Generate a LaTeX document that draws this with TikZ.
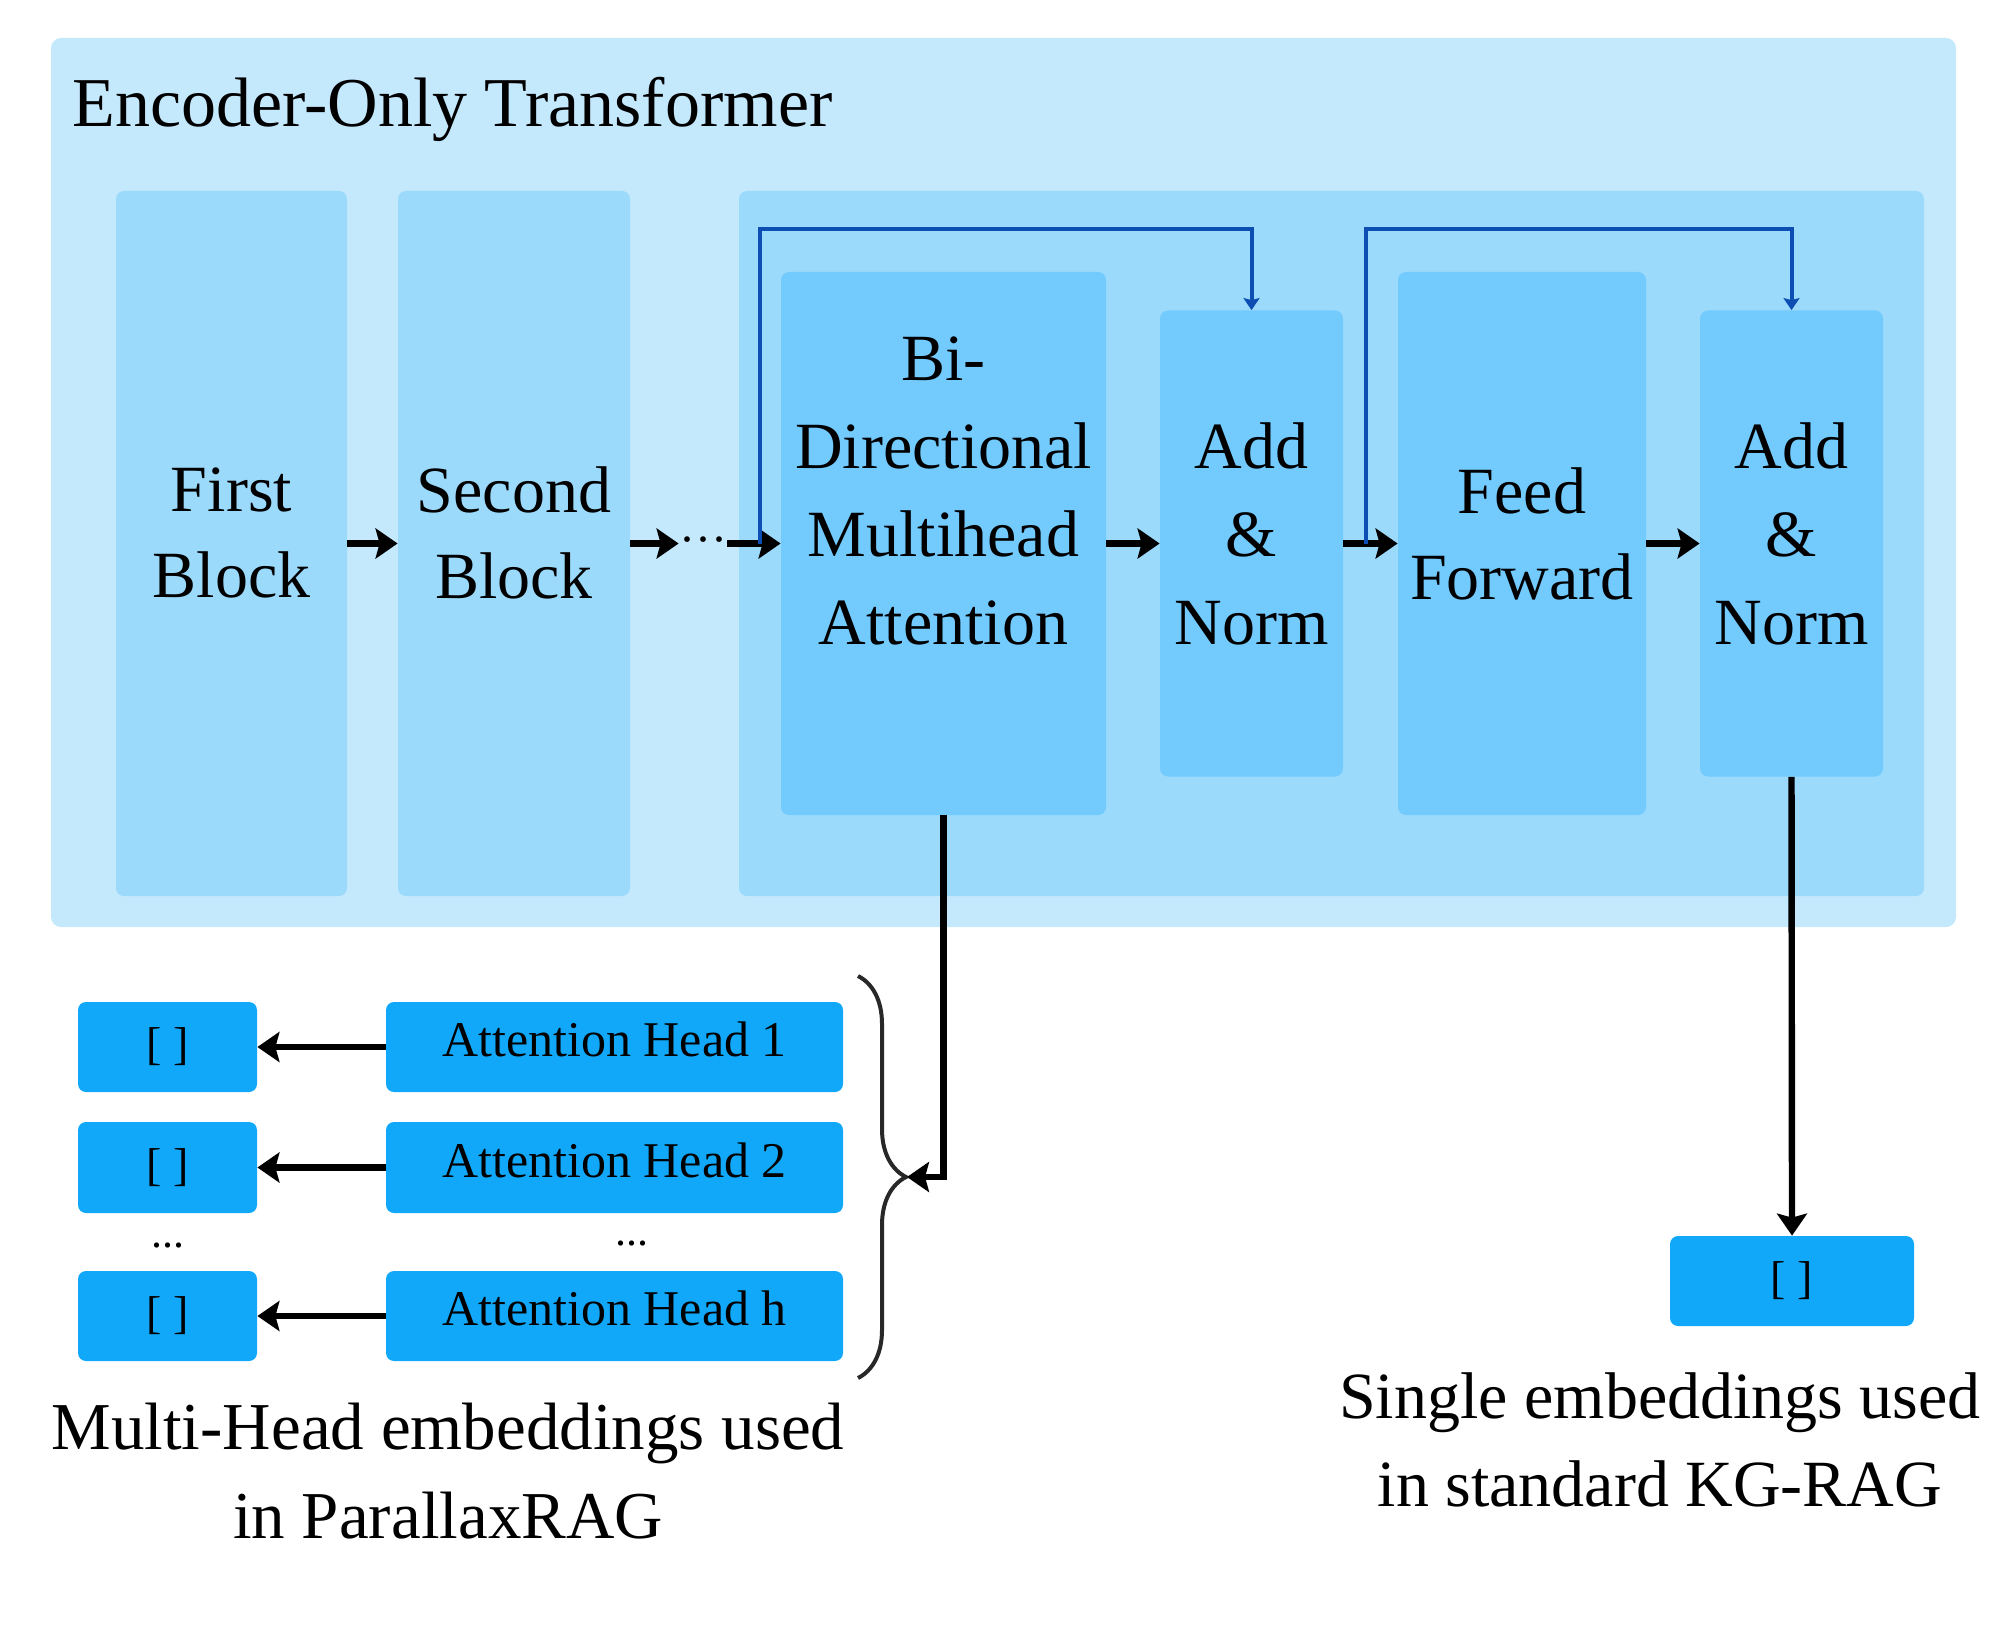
\documentclass[tikz,border=0pt]{standalone}
\usepackage{fontspec}
\setmainfont{Liberation Serif}
\usetikzlibrary{arrows.meta,decorations.pathreplacing,calc}
\definecolor{outerC}{RGB}{196,232,252}
\definecolor{blockC}{RGB}{156,218,252}
\definecolor{innerC}{RGB}{114,202,253}
\definecolor{brightC}{RGB}{18,168,250}
\definecolor{skipC}{RGB}{12,78,178}
\definecolor{braceC}{RGB}{40,40,40}
\begin{document}
\begin{tikzpicture}[x=0.5pt,y=-0.5pt,
  box/.style={rectangle, rounded corners=4pt, inner sep=0pt, draw=none},
  lbl/.style={align=center, inner sep=0pt, font=\fontsize{33}{43}\selectfont},
  lblw/.style={align=center, inner sep=0pt, font=\fontsize{33}{44}\selectfont},
  headtxt/.style={anchor=base, inner sep=0pt, font=\fontsize{25}{29}\selectfont},
  embtxt/.style={inner sep=0pt, font=\fontsize{23}{27}\selectfont},
  caption/.style={align=center, inner sep=0pt, font=\fontsize{33}{44}\selectfont},
  arr/.style={line width=3.2pt, -{Stealth[length=11pt,width=15pt,inset=2pt]}},
  skipline/.style={draw=skipC, line width=2pt, -{Stealth[length=6pt,width=8pt,inset=1pt]}},
]
\useasboundingbox (0,0) rectangle (2016,1642);
% containers
\node[box, rounded corners=5pt, fill=outerC, minimum width=952.5pt, minimum height=444.5pt] (outer) at (1003.5,482.5) {};
\node[anchor=base west, inner sep=0pt, font=\fontsize{35}{42}\selectfont] (title) at (72,127) {Encoder-Only Transformer};
\node[box, fill=blockC, minimum width=115.5pt, minimum height=352.5pt] (first) at (231.5,543.5) {};
\node[box, fill=blockC, minimum width=116pt, minimum height=352.5pt] (second) at (514,543.5) {};
\node[box, fill=blockC, minimum width=592.5pt, minimum height=352.5pt] (cont) at (1331.5,543.5) {};
\node[box, fill=innerC, minimum width=162.5pt, minimum height=271.5pt] (bidir) at (943.5,543.5) {};
\node[box, fill=innerC, minimum width=91.5pt, minimum height=233pt] (an1) at (1251.5,543.5) {};
\node[box, fill=innerC, minimum width=124pt, minimum height=271.5pt] (ff) at (1522,543.5) {};
\node[box, fill=innerC, minimum width=91.5pt, minimum height=233pt] (an2) at (1791.5,543.5) {};
% labels
\node[lbl] (firstT) at (231.5,532.5) {First\\Block};
\node[lbl] (secondT) at (514,532.5) {Second\\Block};
\node[lblw] (bidirT) at (943.5,490.5) {Bi-\\Directional\\Multihead\\Attention};
\node[lblw] (an1T) at (1251.5,533.5) {Add\\\&\\Norm};
\node[lbl] (ffT) at (1522,534) {Feed\\Forward};
\node[lblw] (an2T) at (1791.5,533.5) {Add\\\&\\Norm};
\node[anchor=base, inner sep=0pt, font=\fontsize{24}{28}\selectfont] (dots) at (703,555) {···};
% main arrows
\draw[arr] (first.east) -- (second.west);
\draw[arr] (second.east) -- (second.east -| dots.west);
\draw[arr] (dots.east |- bidir.west) -- (bidir.west);
\draw[arr] (bidir.east) -- (an1.west);
\draw[arr] (an1.east) -- (ff.west);
\draw[arr] (ff.east) -- (an2.west);
% skip connections
\coordinate (s1) at (760,543.5);
\coordinate (k1) at (760,229);
\coordinate (s2) at (1366,543.5);
\coordinate (k2) at (1366,229);
\draw[skipline] (s1) -- (k1) -| (an1.north);
\draw[skipline] (s2) -- (k2) -| (an2.north);
% lower left: heads
\node[box, fill=brightC, minimum width=228.5pt, minimum height=45pt] (h1) at (614.5,1047) {};
\node[box, fill=brightC, minimum width=228.5pt, minimum height=45.5pt] (h2) at (614.5,1167.5) {};
\node[box, fill=brightC, minimum width=228.5pt, minimum height=45pt] (hh) at (614.5,1316) {};
\node[headtxt] (h1T) at (614.5,1056) {Attention Head 1};
\node[headtxt] (h2T) at (614.5,1177) {Attention Head 2};
\node[headtxt] (hhT) at (614.5,1325) {Attention Head h};
\node[box, fill=brightC, minimum width=89.5pt, minimum height=45pt, embtxt] (e1) at (167.5,1047) {[ ]};
\node[box, fill=brightC, minimum width=89.5pt, minimum height=45.5pt, embtxt] (e2) at (167.5,1167.5) {[ ]};
\node[box, fill=brightC, minimum width=89.5pt, minimum height=45pt, embtxt] (eh) at (167.5,1316) {[ ]};
\node[anchor=base, inner sep=0pt, font=\fontsize{22}{26}\selectfont] (ldots) at (168,1247) {...};
\node[anchor=base, inner sep=0pt, font=\fontsize{22}{26}\selectfont] (mdots) at (632,1245) {...};
\draw[arr] (h1.west) -- (e1.east);
\draw[arr] (h2.west) -- (e2.east);
\draw[arr] (hh.west) -- (eh.east);
% brace
\draw[draw=braceC, line width=2pt, decorate, decoration={brace, amplitude=24pt}] (858,976) -- (858,1378);
\coordinate (btip) at (907,1177);
\draw[arr] (bidir.south) |- (btip);
\node[caption, font=\fontsize{33.5}{44.5}\selectfont] (capL) at (448,1471) {Multi-Head embeddings used\\in ParallaxRAG};
% right: single embedding
\node[box, fill=brightC, minimum width=122pt, minimum height=45pt, embtxt] (single) at (1792,1281) {[ ]};
\draw[arr] (an2.south) -- (single.north);
\node[caption] (capR) at (1660,1439.5) {Single embeddings used\\in standard KG-RAG};
\end{tikzpicture}
\end{document}
